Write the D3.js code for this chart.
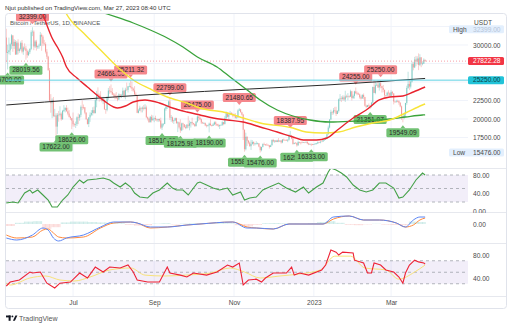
<!DOCTYPE html>
<html><head><meta charset="utf-8">
<script src="https://cdn.jsdelivr.net/npm/d3@7/dist/d3.min.js"></script>
<style>
html,body{margin:0;padding:0;background:#fff;}
svg{display:block;font-family:"Liberation Sans",Arial,sans-serif;}
</style></head><body>
<svg id="chart" width="512" height="328"></svg>
<script>
// BTC/USDT daily sessions (Binance), first session 2022-05-11
const firstSession = "2022-05-11";
const firstOpen = 31007;
const highs = [32190,30032,30999,30306,31460,31308,30788,30670,30545,30777,29618,30487,30670,29835,30223,29872,29397,29250,29550,31980,32399,
31982,30650,30700,29950,30180,31765,31560,31326,30689,30366,29436,28544,26886,23362,22800,22975,21365,20787,20815,21090,21723,20900,21233,21868,21600,21868,21539,21200,20432,20141,
20876,19438,19653,20354,20750,20675,21838,22527,21954,21600,20900,20048,20250,20890,21200,21588,21684,22777,23800,24276,23442,23756,22990,22998,22666,21347,23112,24199,24442,24668,24194,
23509,23459,23647,23223,23465,23354,23400,24245,23933,24226,24918,24456,24888,25211.32,25050,24247,24446,23600,23202,21382,21800,21548,21700,21900,22000,21819,20340,20142,20400,20575,20490,
20200,20444,20055,20029,20058,20180,19464,19450,21500,21800,21840,22488,22799,20541,20330,19890,20189,20182,19689,19634,19956,19500,19500,19310,19180,19310,20385,19790,19645,20185,
19484,19395,19719,20475,20365,20456,20058,19627,19558,19525,19268,19220,19513,19951,19228,19424,19676,19706,19360,19347,19250,19257,19695,19601,20415,21020,20877,20750,21085,20931,20840,
20700,20800,20393,21302,21480.65,21365,20991,20700,18588,18150,17655,17155,16945,17190,17134,16960,16744,17000,16820,16755,16290,16253,16707,16812,16595,16700,16600,16483,16528,17250,
17320,17105,17158,17199,17424,17107,17140,17299,17360,17227,17270,17241,18000,18387.95,17850,17531,16800,16876,16820,17061,16925,16868,16955,16869,16859,16929,16972,16785,16664,16677,16644,
16630,16760,16777,16965,16885,16991,16968,17176,17398,17490,18000,19117,19970,21258,21050,21474,21640,21650,21200,22755,23371,23078,23180,23180,23816,23282,23500,23185,23960,23800,23320,
23812,24255,23715,23585,23433,23160,23350,23452,22995,21940,21906,22090,21890,22325,24380,25250,25021,24877,25190,25120,25250,24475,24600,23963,23216,23689,23880,23600,
23880,23775,23476,22410,22600,22603,22527,22268,21820,20367,20850,22185,24500,26386,25250,25200,27756,27725,28390,28527,28470,28868,28752,28358,27797,28194,28040];
const lows = [27665,26700,28751,28630,29480,29087,29450,28654,28693,28730,28950,29255,28866,28669,29294,28019.56,28262,28500,28780,29300,31200,
29301,29594,29250,29480,29500,29885,29218,29850,29930,28850,28100,26560,22300,20846,20111,20232,20246,17622,17961,19637,20348,19770,19890,20950,20889,21000,20500,20186,19850,18626,
18975,18966,18781,19055,19304,19761,20256,21189,21320,20646,19923,19240,18910,19620,20382,20474,20750,20762,21580,22906,22341,22500,22257,22000,21250,20706,21042,22582,23414,23502,23227,
22850,22654,22681,22400,22586,22909,22841,23154,22865,22664,23852,23580,24296,24150,23773,23671,23180,23100,20783,20761,21069,20890,20890,21145,21316,20112,19800,19520,19550,19540,19797,
19565,19753,19655,19583,19633,18650,18510,19000,19297,21111,21350,21546,19860,19617,19497,19320,19748,19387,18232,18711,18125.98,18356,18531,18805,18629,18680,18816,18471,18843,19155,
19159,18920,18959,19490,19730,19853,19320,19365,19320,19028,18860,18965,18190,19070,18975,19063,19160,19111,19067,18900,18650,19115,19068,19157,19242,20050,20200,20000,20558,20515,20216,
20330,20060,20031,20180,21080,20880,20475,17166,15588,15754,16361,16600,16250,15815,16528,16378,16423,16545,16560,16180,15476,15630,16160,16458,16360,16411,16400,15995,16200,16430,
16855,16787,16870,16880,16868,16906,16678,16733,17058,17092,17071,16872,17080,17660,17275,16527,16584,16697,16256,16397,16723,16559,16755,16765,16732,16792,16592,16470,16508,16333,16470,
16499,16548,16600,16657,16754,16710,16908,16913,17097,17161,17315,17892,18712,19889,20551,20611,20860,20407,20659,20862,22422,22292,22512,22461,22300,22850,22534,22877,22985,22500,22715,
22760,23365,23204,23253,22745,22628,22745,22665,21688,21451,21599,21630,21351.07,21532,22047,23505,23339,24450,24192,23840,24148,23574,23608,22857,22722,23076,23105,23027,
23020,23195,21971,22180,22198,22256,21927,21580,19869,19549.09,19968,20277,21918,24080,23896,24123,24930,26578,26880,27126,27366,26601,27155,27000,27256,27426,27700];
const closes = [28936,29047,29283,30101,31305,29862,30425,28715,30319,29201,29445,30293,29110,29655,29542,29201,28629,29031,29468,31734,31801,
29799,30467,29705,29833,29906,31371,31125,30204,30110,29091,28424,26574,22487,22136,22583,20401,20468,18970,20574,20573,20720,19965,21100,21226,21489,21038,20734,20278,20105,19785,
19297,19244,19316,20227,20175,20565,21632,21592,21591,20862,19963,19329,20213,20570,20825,21196,20786,22525,23410,23223,23152,22684,22451,22579,21310,21254,22952,23843,23774,23643,23293,
23268,22987,22818,22622,23312,22954,23175,23810,23149,23954,23934,24403,24441,24305,24102,23854,23336,23191,20834,21140,21516,21399,21528,21368,21559,20241,20037,19550,20285,19811,20050,
20131,19951,19832,19986,19812,18837,19290,19329,21381,21680,21769,22371,20173,20226,19701,19803,20113,19417,19537,18875,18461,19401,19289,18920,18807,19227,19079,19412,19591,19422,
19310,19056,19629,20337,20158,19960,19530,19417,19439,19131,19060,19155,19375,19176,19069,19262,19549,19327,19123,19041,19164,19204,19570,19330,20080,20771,20295,20595,20818,20627,20490,
20483,20151,20207,21148,21299,20905,20591,18547,15922,17601,17070,16812,16329,16619,16900,16662,16692,16700,16700,16280,15782,16227,16603,16598,16522,16458,16428,16212,16442,17164,
16978,17092,16885,17105,16966,17088,16836,17224,17128,17127,17085,17208,17775,17804,17356,16632,16777,16738,16439,16895,16824,16821,16778,16836,16832,16919,16706,16547,16633,16607,16542,
16616,16672,16673,16850,16831,16950,16943,17128,17179,17441,17943,18847,19930,20954,20871,21185,21134,20677,21071,22667,22784,22707,22917,22632,23060,23009,23074,23023,23743,22827,23125,
23733,23492,23431,23326,22932,22763,23249,22964,21797,21625,21862,21784,21773,22199,24324,23518,24565,24631,24271,24837,24440,24188,23947,23198,23175,23555,23492,23141,
23628,23465,22354,22346,22430,22410,22197,21705,20363,20187,20633,22163,24197,24746,24375,25055,27423,26965,28038,27767,28175,27307,28333,27493,27494,27994,27822.28];

// Moving averages, [session index, price]
const maRed = [[24,36080],[28,34189],[31,32703],[35,30946],[39,29730],[43,28378],[46,27027],[54,25541],[62,24324],[72,22838],[77,22162],[82,21622],[85,21486],[91,21757],[97,22297],[106,22568],[117,22162],[127,21486],[138,20946],[148,20541],[158,20135],[169,19865],[181,19595],[194,18919],[207,18243],[219,17568],[227,17162],[237,17162],[245,17432],[253,18514],[265,20135],[275,21216],[285,22568],[293,22973],[303,23108],[311,23649],[320,24324]];
const maYellow = [[41,36080],[46,34189],[59,31622],[72,29324],[85,27027],[97,25270],[110,24054],[123,22973],[138,22162],[148,21486],[169,20811],[181,20135],[194,19459],[219,18784],[229,18243],[242,18108],[254,18243],[267,18919],[280,19459],[293,19865],[305,20811],[318,21892],[320,22027]];
const maGreen = [[56,35473],[77,34189],[97,32973],[110,32027],[123,30946],[135,29730],[146,28378],[161,27027],[171,25676],[186,23649],[194,22568],[207,21216],[219,20405],[232,19865],[247,19595],[267,19730],[293,20000],[305,20270],[318,20541],[320,20560]];
const maWeekly = [[0,21892],[117,23378],[186,24054],[245,24595],[320,25480]];

// Pivot points [date, price]
const pivotHighs = [["2022-05-31",32399.00],["2022-07-30",24668.00],["2022-08-14",25211.32],["2022-09-13",22799.00],["2022-10-04",20475.00],["2022-11-05",21480.65],["2022-12-14",18387.95],["2023-02-02",24255.00],["2023-02-21",25250.00]];
const pivotLows = [["2022-05-12",26700.00],["2022-05-26",28019.56],["2022-06-18",17622.00],["2022-06-30",18626.00],["2022-09-07",18510.00],["2022-09-21",18125.98],["2022-10-13",18190.00],["2022-11-09",15588.00],["2022-11-21",15476.00],["2022-12-19",16256.00],["2022-12-30",16333.00],["2023-02-13",21351.07],["2023-03-10",19549.09]];

const lastPrice = 27822.28;
const levelPrice = 25250.00;
const rangeHigh = 32399.00;
const rangeLow = 15476.00;
const priceTicks = [30000, 22500, 20000, 17500];
const priceGrid = [17500, 20000, 22500, 25000, 27500, 30000, 32500];
const timeTicks = ["2022-07-01","2022-09-01","2022-11-01","2023-01-01","2023-03-01"];
const timeTickLabels = ["Jul","Sep","Nov","2023","Mar"];

// Oscillator pane [session index, value]
const osc = [[0,17.8],[5,20],[9,17.8],[14,40],[18,46.7],[20,40],[24,46.7],[28,35.6],[32,24.4],[35,8.9],[39,8.9],[43,24.4],[47,35.6],[51,53.3],[56,68.9],[59,62.2],[62,68.9],[69,71.1],[74,73.3],[79,68.9],[82,62.2],[87,53.3],[91,62.2],[95,53.3],[98,40],[102,31],[108,28.9],[112,40],[117,46.7],[123,62.2],[127,51],[130,46.7],[135,46.7],[139,35.6],[146,62.2],[148,64.4],[153,57.8],[158,51],[163,46.7],[169,51],[173,35.6],[179,42.2],[182,24.4],[186,28.9],[191,31.1],
[196,46.7],[201,53.3],[208,62.2],[214,51],[221,42.2],[227,53.3],[231,40],[237,53.3],[242,62.2],[246,86.7],[248,95.6],[252,91],[256,84.4],[260,75.6],[265,57.8],[270,46.7],[275,42.2],[280,46.7],[285,62.2],[290,62.2],[296,51],[300,28.9],[303,31],[308,46.7],[313,68.9],[318,84.4],[320,80]];

// MACD pane
const macdDays = [0,8,20,28,32,36,40,46,59,72,82,95,100,110,123,138,148,173,184,191,204,216,242,250,262,273,285,298,305,311,316,320];
const macdValues = [-1750,-2000,-1375,-500,-750,-1750,-2125,-1750,-1375,-375,250,250,125,-375,-375,-125,0,250,-500,-500,-625,0,0,875,1000,500,500,125,-375,500,875,875];
const signalValues = [-1375,-1750,-1625,-750,-625,-1125,-1625,-1750,-1625,-500,125,250,125,-500,-375,-125,0,250,-375,-500,-625,0,0,625,1000,500,500,125,-375,-125,500,750];
// histogram, one value per week of sessions
const histWeekly = [-250,150,300,350,-600,-400,200,300,300,250,200,150,100,-100,-200,-150,50,100,-50,50,80,60,50,100,80,-150,-300,-100,100,120,80,50,20,100,250,350,150,-100,-150,-50,30,-80,-120,-150,300,250];

// RSI pane [session index, value]
const rsi = [[0,26],[3,33],[10,36.5],[18,50.4],[20,48.7],[26,50.4],[31,31],[37,22.6],[41,31],[49,33],[56,48.7],[62,40],[68,59],[74,50.4],[79,59],[87,57.4],[93,62.6],[97,50.4],[100,36.5],[108,33],[117,33],[123,59],[125,48.7],[133,45],[138,41.7],[143,48.7],[153,45],[161,50.4],[169,62.6],[173,59],[178,66],[181,27.8],[185,36.5],[191,38],[195,33],[198,40],[204,48.7],[214,48.7],[218,59],[220,45],[224,48.7],[231,45],[241,54],[244,62.6],[248,88.7],[252,85],[254,80],[257,85],[265,83.5],[266,71],[273,66],[276,48.7],[279,48.7],[281,66],[286,62.6],[290,54],[296,50.4],[300,41.7],[303,31],[305,48.7],[308,62.6],[312,71],[315,68],[319,66],[320,64]];
const rsiMa = [[0,31.3],[3,27.8],[18,40],[30,43.5],[41,36.5],[52,34.8],[64,41.7],[79,54],[95,57.4],[106,45],[121,43.5],[137,45],[156,48.7],[171,57.4],[182,50.4],[194,40],[209,43.5],[224,47],[240,54],[251,78],[263,78],[274,57.4],[290,54],[300,38],[312,50.4],[320,62.6]];

// ---------------------------------------------------------------
const svg = d3.select("#chart");
const parse = d3.utcParse("%Y-%m-%d");
const t0 = parse(firstSession);
const DAY = 864e5;
const sessionDate = i => new Date(+t0 + i * DAY);

const plotL = 6, plotR = 468, frameR = 506;
const panes = {
  main: [14, 168],
  osc: [169, 213],
  macd: [213, 244],
  rsi: [244, 296]
};

const x = d3.scaleUtc().domain([t0, parse("2023-04-28")]).range([6.3, 467]);
const xi = i => x(sessionDate(i));
const yMain = d3.scaleLinear().domain([13378, 34189]).range([168, 14]);
const yOsc = d3.scaleLinear().domain([0, 80]).range([211, 175]);
const yMacd = d3.scaleLinear().domain([0, 1000]).range([224, 216]);
const yRsi = d3.scaleLinear().domain([40, 80]).range([278, 255]);

const defs = svg.append("defs");
Object.entries(panes).forEach(([k, [t, b]]) => {
  defs.append("clipPath").attr("id", "clip-" + k)
    .append("rect").attr("x", plotL).attr("y", t).attr("width", plotR - plotL).attr("height", b - t);
  defs.append("clipPath").attr("id", "clipax-" + k)
    .append("rect").attr("x", plotR).attr("y", t).attr("width", frameR - plotR).attr("height", b - t);
});
defs.append("clipPath").attr("id", "clip-labels")
  .append("rect").attr("x", 0).attr("y", 14).attr("width", plotR).attr("height", 154);

const FS = 6.6;
const txt = "#4a4a4a";
const fmt = d3.format(".2f");

// header
svg.append("text").attr("x", 5).attr("y", 9.5).attr("font-size", 6.1).attr("fill", "#333")
  .text("Njut published on TradingView.com, Mar 27, 2023 08:40 UTC");

// frame
svg.append("rect").attr("x", 5.5).attr("y", 13.5).attr("width", 501).attr("height", 295)
  .attr("rx", 3).attr("fill", "#fff").attr("stroke", "#e0e3eb");

// grid
const grid = svg.append("g");
grid.selectAll("line.v").data(timeTicks).join("line")
  .attr("x1", d => x(parse(d))).attr("x2", d => x(parse(d)))
  .attr("y1", 14).attr("y2", 296).attr("stroke", "#f0f3fa");
grid.selectAll("line.h").data(priceGrid).join("line")
  .attr("x1", plotL).attr("x2", plotR).attr("y1", d => yMain(d)).attr("y2", d => yMain(d))
  .attr("stroke", "#f0f3fa").attr("clip-path", "url(#clip-main)");

// pane separators
svg.selectAll("line.sep").data([168.5, 212.5, 243.5, 296.5]).join("line")
  .attr("x1", 6).attr("x2", frameR).attr("y1", d => d).attr("y2", d => d)
  .attr("stroke", "#e6e8ee");

// right-hand value axis for a pane, clipped to that pane's rows
function paneAxis(scale, ticks, paneKey) {
  const outer = svg.append("g").attr("clip-path", "url(#clipax-" + paneKey + ")");
  const ax = outer.append("g").attr("transform", `translate(${plotR},0)`)
    .call(d3.axisRight(scale).tickValues(ticks).tickSize(0).tickPadding(5).tickFormat(fmt));
  ax.select(".domain").remove();
  ax.selectAll("text").attr("font-size", FS).attr("fill", txt).attr("font-family", null);
  return ax;
}

// ---------- main pane ----------
const gMain = svg.append("g").attr("clip-path", "url(#clip-main)");

svg.append("text").attr("x", 10).attr("y", 25).attr("font-size", 6.1).attr("fill", "#555")
  .text("Bitcoin / TetherUS, 1D, BINANCE");

const bars = closes.map((c, i) => ({ i, o: i ? closes[i - 1] : firstOpen, h: highs[i], l: lows[i], c }));
const upCol = "rgba(38,166,154,0.42)", dnCol = "rgba(239,83,80,0.42)";
const gC = gMain.append("g");
gC.selectAll("line").data(bars).join("line")
  .attr("x1", d => xi(d.i)).attr("x2", d => xi(d.i))
  .attr("y1", d => yMain(Math.max(d.h, d.o, d.c))).attr("y2", d => yMain(Math.min(d.l, d.o, d.c)))
  .attr("stroke", d => d.c >= d.o ? upCol : dnCol).attr("stroke-width", 0.7);
gC.selectAll("rect").data(bars).join("rect")
  .attr("x", d => xi(d.i) - 0.55).attr("width", 1.1)
  .attr("y", d => yMain(Math.max(d.o, d.c)))
  .attr("height", d => Math.max(0.6, Math.abs(yMain(d.o) - yMain(d.c))))
  .attr("fill", d => d.c >= d.o ? upCol : dnCol);

// last price line
gMain.append("line").attr("x1", plotL).attr("x2", plotR)
  .attr("y1", yMain(lastPrice)).attr("y2", yMain(lastPrice))
  .attr("stroke", "#f7a1a8").attr("stroke-dasharray", "1,2");

// pivot labels
const gLab = svg.append("g").attr("clip-path", "url(#clip-labels)");
function pivot(d, high) {
  const cx = x(parse(d[0])), py = yMain(d[1]);
  const w = 33, h = 9;
  const tip = high ? py - 3 : py + 3;
  const base = high ? tip - 3 : tip + 3;
  const top = high ? base - h : base;
  const col = high ? "#f5878c" : "#72c174";
  const g = gLab.append("g");
  g.append("path").attr("d", `M${cx - 2.5},${base}L${cx},${tip}L${cx + 2.5},${base}Z`).attr("fill", col);
  g.append("rect").attr("x", cx - w / 2).attr("y", top).attr("width", w).attr("height", h).attr("rx", 1.5).attr("fill", col);
  g.append("text").attr("x", cx).attr("y", top + h / 2).attr("dy", "0.35em").attr("text-anchor", "middle")
    .attr("font-size", FS).attr("fill", "#2b2b2b").text(fmt(d[1]));
}
const allPivots = pivotHighs.map(d => [d, true]).concat(pivotLows.map(d => [d, false]))
  .sort((a, b) => d3.ascending(parse(a[0][0]), parse(b[0][0])));
allPivots.forEach(([d, hi]) => pivot(d, hi));

// moving averages
const gMA = svg.append("g").attr("clip-path", "url(#clip-main)");
const maLine = d3.line().x(d => xi(d[0])).y(d => yMain(d[1])).curve(d3.curveMonotoneX);
gMA.append("path").datum(maWeekly).attr("d", maLine).attr("fill", "none").attr("stroke", "#2a2a2a").attr("stroke-width", 1);
gMA.append("path").datum(maGreen).attr("d", maLine).attr("fill", "none").attr("stroke", "#3aa33b").attr("stroke-width", 1.3);
gMA.append("path").datum(maYellow).attr("d", maLine).attr("fill", "none").attr("stroke", "#f7e43a").attr("stroke-width", 1.4);
gMA.append("path").datum(maRed).attr("d", maLine).attr("fill", "none").attr("stroke", "#e8232e").attr("stroke-width", 1.4);

gMA.append("line").attr("x1", plotL).attr("x2", plotR)
  .attr("y1", yMain(levelPrice)).attr("y2", yMain(levelPrice))
  .attr("stroke", "#5fd3e3").attr("stroke-width", 1);

// price axis
paneAxis(yMain, priceTicks, "main");
svg.append("text").attr("x", 474).attr("y", 24.5).attr("font-size", FS).attr("fill", txt).text("USDT");

function tag(y, bg, fg, label, val, valCol) {
  const g = svg.append("g");
  if (label) {
    g.append("rect").attr("x", 449).attr("y", y - 4).attr("width", 55).attr("height", 8).attr("rx", 1.5).attr("fill", bg);
    g.append("text").attr("x", 453).attr("y", y).attr("dy", "0.35em").attr("font-size", FS).attr("fill", fg).text(label);
  } else {
    g.append("rect").attr("x", 468).attr("y", y - 4).attr("width", 36).attr("height", 8).attr("rx", 1.5).attr("fill", bg);
  }
  g.append("text").attr("x", 473).attr("y", y).attr("dy", "0.35em").attr("font-size", FS).attr("fill", valCol || fg).text(fmt(val));
}
tag(yMain(rangeHigh) + 2, "#e3effd", "#4a4a4a", "High", rangeHigh, "#b6c4d8");
tag(yMain(rangeLow), "#e3effd", "#4a4a4a", "Low", rangeLow, "#4a4a4a");
tag(yMain(lastPrice), "#f23645", "#fff", null, lastPrice);
tag(yMain(levelPrice), "#22c3d8", "#0b3f47", null, levelPrice);

// ---------- oscillator pane ----------
const gOsc = svg.append("g").attr("clip-path", "url(#clip-osc)");
gOsc.append("rect").attr("x", plotL).attr("width", plotR - plotL).attr("y", yOsc(80)).attr("height", yOsc(20) - yOsc(80))
  .attr("fill", "rgba(126,87,194,0.1)");
gOsc.selectAll("line").data([80, 50, 20]).join("line")
  .attr("x1", plotL).attr("x2", plotR).attr("y1", d => yOsc(d)).attr("y2", d => yOsc(d))
  .attr("stroke", "#a0a3ab").attr("stroke-dasharray", "3,3").attr("stroke-width", 0.8);
gOsc.append("path").datum(osc)
  .attr("d", d3.line().x(d => xi(d[0])).y(d => yOsc(d[1])))
  .attr("fill", "none").attr("stroke", "#43a047").attr("stroke-width", 1.1);
paneAxis(yOsc, [80, 40, 0], "osc");

// ---------- MACD pane ----------
const gMacd = svg.append("g").attr("clip-path", "url(#clip-macd)");
gMacd.selectAll("line").data(closes.map((c, i) => [i, histWeekly[Math.floor(i / 7)]])).join("line")
  .attr("x1", d => xi(d[0])).attr("x2", d => xi(d[0]))
  .attr("y1", yMacd(0)).attr("y2", d => yMacd(d[1]))
  .attr("stroke", d => d[1] >= 0 ? "rgba(38,166,154,0.3)" : "rgba(239,83,80,0.3)").attr("stroke-width", 0.8);
const macdLine = d3.line().x(d => xi(d[0])).y(d => yMacd(d[1])).curve(d3.curveMonotoneX);
gMacd.append("path").datum(macdDays.map((d, i) => [d, signalValues[i]])).attr("d", macdLine)
  .attr("fill", "none").attr("stroke", "#ff8a3d").attr("stroke-width", 1);
gMacd.append("path").datum(macdDays.map((d, i) => [d, macdValues[i]])).attr("d", macdLine)
  .attr("fill", "none").attr("stroke", "#5b86f5").attr("stroke-width", 1);
paneAxis(yMacd, [0], "macd");

// ---------- RSI pane ----------
const gRsi = svg.append("g").attr("clip-path", "url(#clip-rsi)");
gRsi.append("rect").attr("x", plotL).attr("width", plotR - plotL).attr("y", yRsi(70)).attr("height", yRsi(30) - yRsi(70))
  .attr("fill", "rgba(126,87,194,0.1)");
gRsi.selectAll("line").data([70, 50, 30]).join("line")
  .attr("x1", plotL).attr("x2", plotR).attr("y1", d => yRsi(d)).attr("y2", d => yRsi(d))
  .attr("stroke", "#a0a3ab").attr("stroke-dasharray", "3,3").attr("stroke-width", 0.8);
gRsi.append("path").datum(rsiMa)
  .attr("d", d3.line().x(d => xi(d[0])).y(d => yRsi(d[1])).curve(d3.curveMonotoneX))
  .attr("fill", "none").attr("stroke", "#f8e27a").attr("stroke-width", 1);
gRsi.append("path").datum(rsi)
  .attr("d", d3.line().x(d => xi(d[0])).y(d => yRsi(d[1])))
  .attr("fill", "none").attr("stroke", "#ee2235").attr("stroke-width", 1.1);
paneAxis(yRsi, [80, 40], "rsi");

// ---------- time axis ----------
const axT = svg.append("g").attr("transform", "translate(0,297)")
  .call(d3.axisBottom(x).tickValues(timeTicks.map(parse)).tickSize(0).tickPadding(3)
    .tickFormat((d, i) => timeTickLabels[i]));
axT.select(".domain").remove();
axT.selectAll("text").attr("font-size", FS).attr("fill", txt).attr("font-family", null);

// footer logo
const logo = svg.append("g").attr("fill", "#131722");
logo.append("rect").attr("x", 6).attr("y", 315.5).attr("width", 4.6).attr("height", 1.9);
logo.append("rect").attr("x", 8.6).attr("y", 315.5).attr("width", 2).attr("height", 5.3);
logo.append("circle").attr("cx", 12.4).attr("cy", 316.4).attr("r", 0.95);
logo.append("path").attr("d", "M12.9,320.8L15.4,315.5L17.4,315.5L14.9,320.8Z");
svg.append("text").attr("x", 19).attr("y", 320.6).attr("font-size", 7).attr("fill", "#555").text("TradingView");
</script>
</body></html>
